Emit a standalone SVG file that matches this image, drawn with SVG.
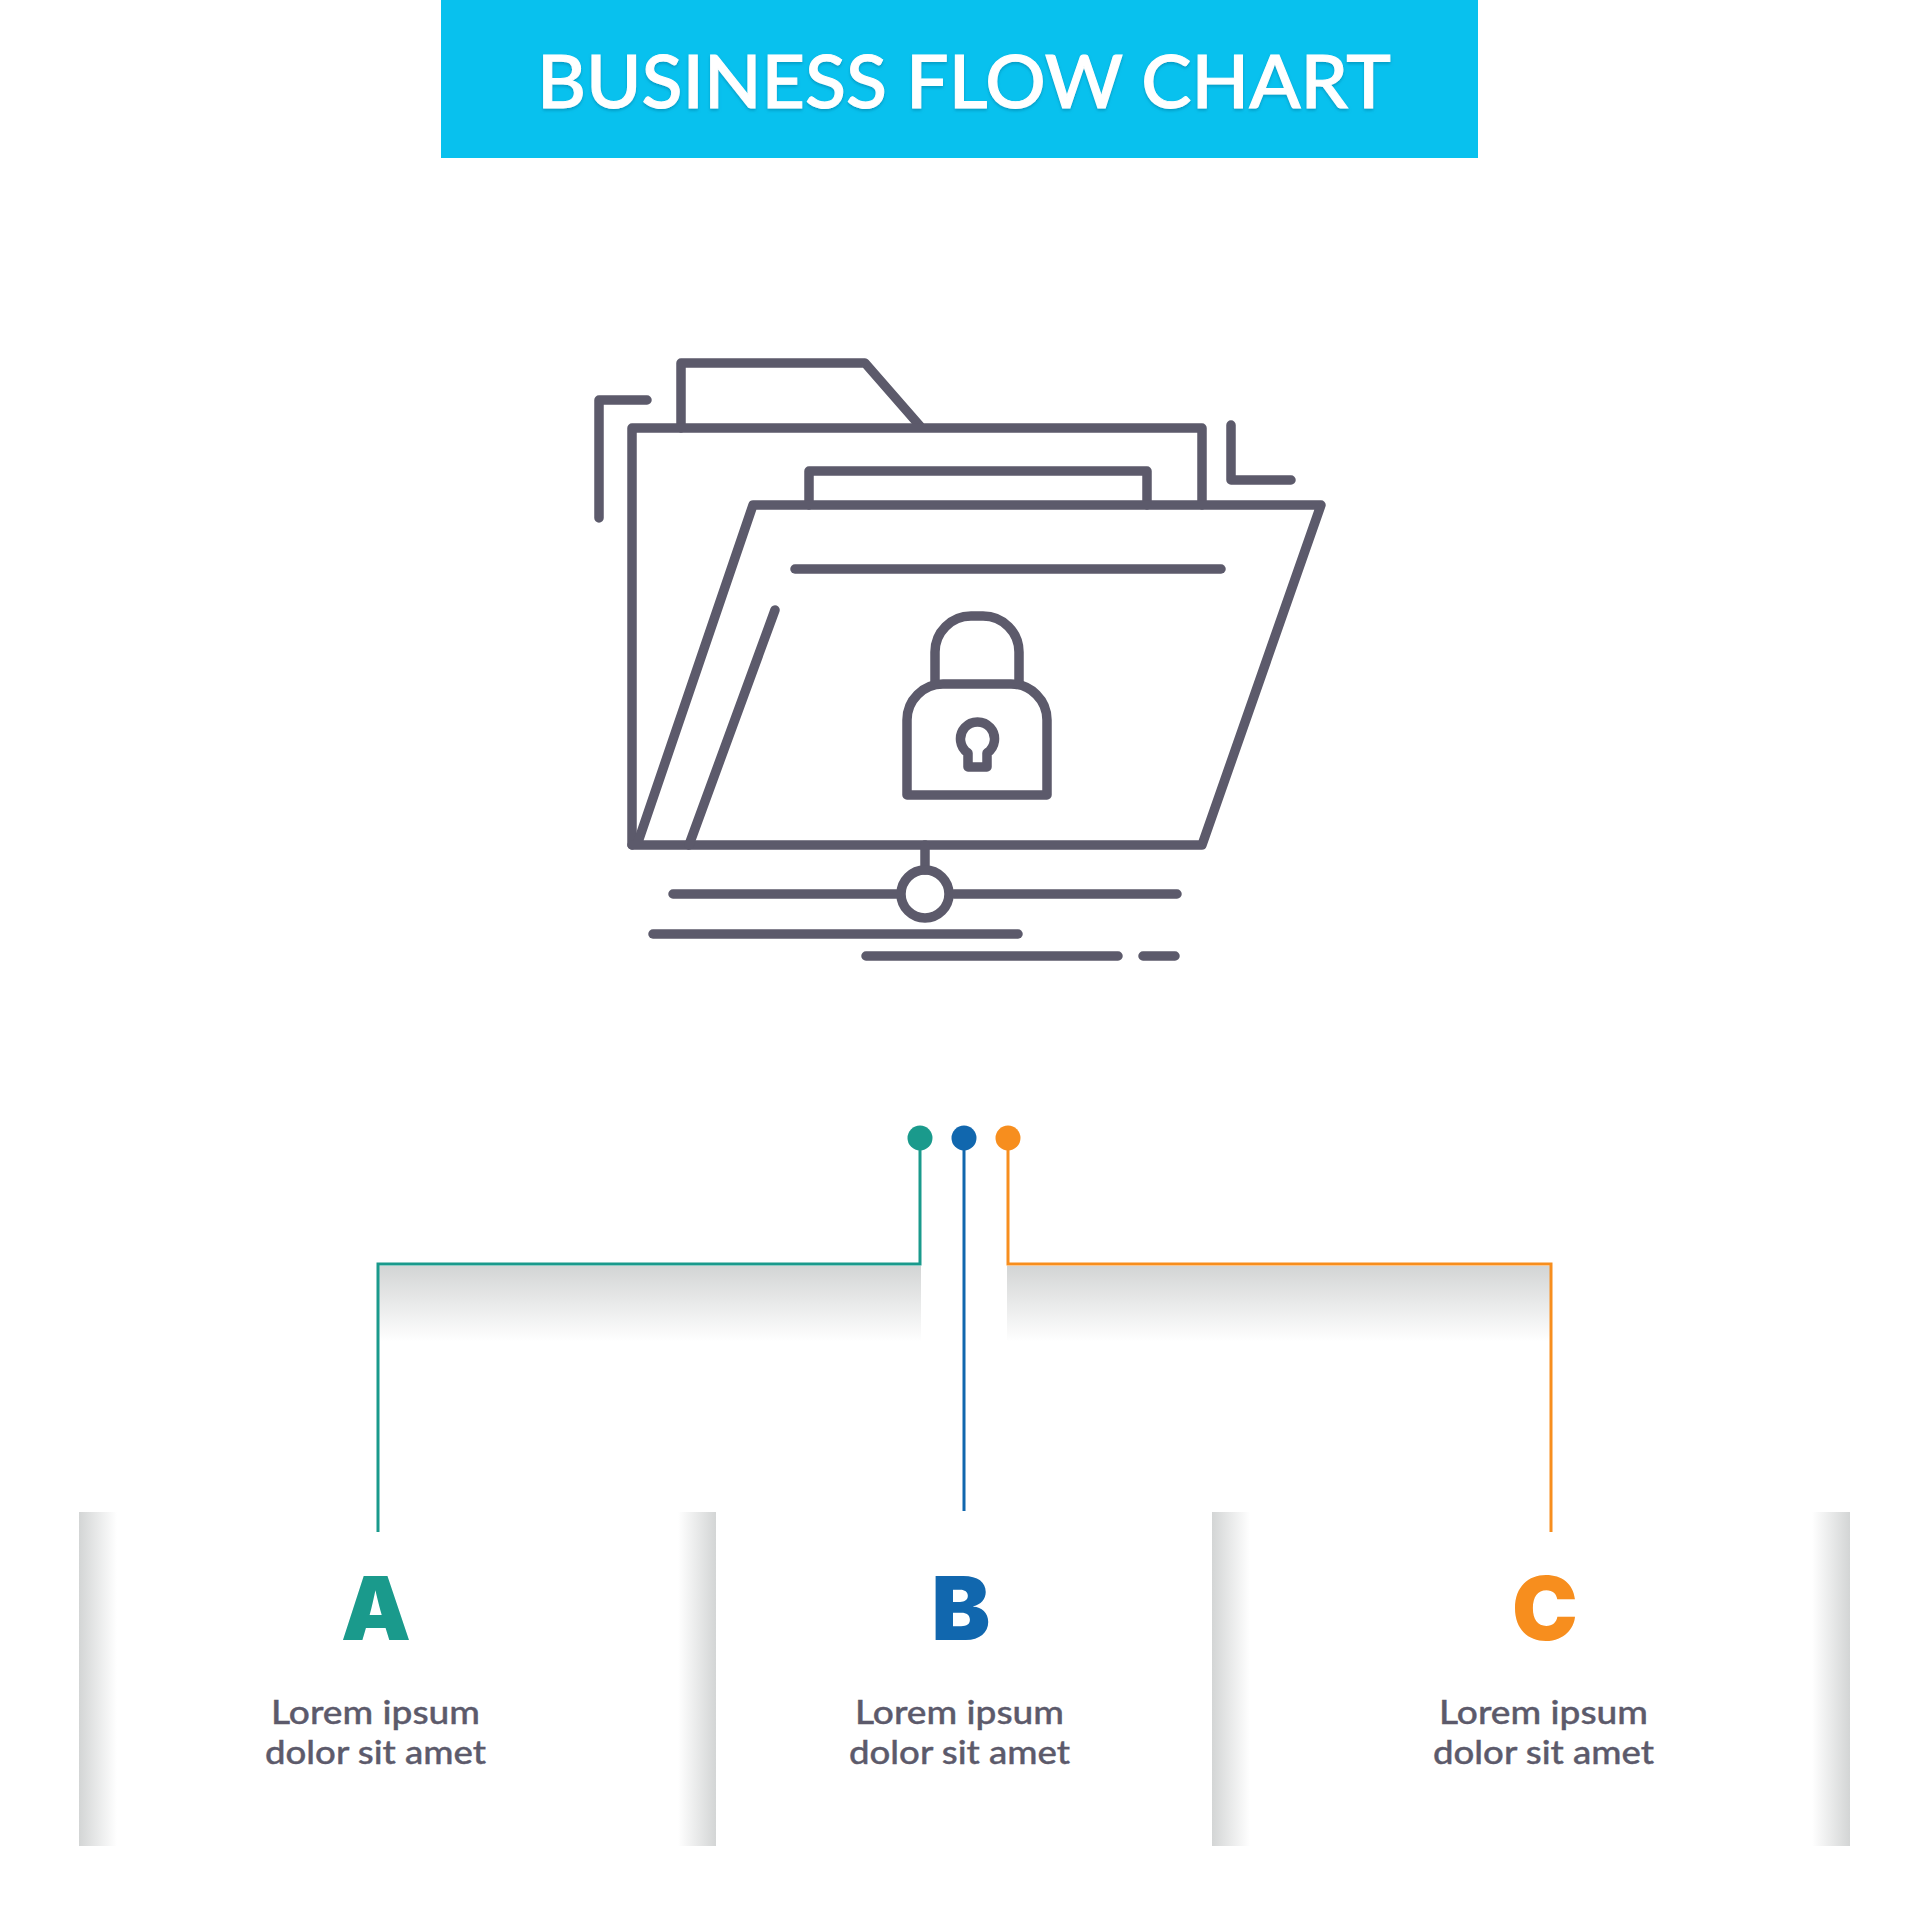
<svg xmlns="http://www.w3.org/2000/svg" width="1920" height="1920" viewBox="0 0 1920 1920">
<defs>
<linearGradient id="fadeL" x1="0" x2="1" y1="0" y2="0"><stop offset="0" stop-color="#d3d5d5"/><stop offset="1" stop-color="#fff"/></linearGradient>
<linearGradient id="fadeR" x1="0" x2="1" y1="0" y2="0"><stop offset="0" stop-color="#fff"/><stop offset="1" stop-color="#d3d5d5"/></linearGradient>
<linearGradient id="fadeD" x1="0" x2="0" y1="0" y2="1"><stop offset="0" stop-color="#d3d5d5"/><stop offset="1" stop-color="#fff"/></linearGradient>
<filter id="ts" x="-5%" y="-20%" width="110%" height="140%"><feDropShadow dx="0" dy="2" stdDeviation="1.5" flood-color="#067fa6" flood-opacity="0.55"/></filter>
</defs>
<style>
.ic{fill:none;stroke:#5c5a6b;stroke-width:9.5;stroke-linecap:round;stroke-linejoin:round}
.con{fill:none;stroke-width:3}
.title{font-family:"Lato","Liberation Sans",sans-serif;font-size:74px;font-weight:500;fill:#fff;stroke:#fff;stroke-width:1}
.let{font-family:"Inter","Liberation Sans",sans-serif;font-size:88px;font-weight:900;text-anchor:middle}
.txt{font-family:"Lato","Liberation Sans",sans-serif;font-size:33px;font-weight:500;fill:#5c5a6b;stroke:#5c5a6b;stroke-width:0.4}
</style>
<rect width="1920" height="1920" fill="#fff"/>
<g id="header">
<rect x="441" y="0" width="1037" height="158" fill="#08c1ee"/>
<text class="title" x="537" y="108" textLength="854" lengthAdjust="spacingAndGlyphs" filter="url(#ts)">BUSINESS FLOW CHART</text>
</g>
<g id="icon" class="ic">
<path d="M681 428V363H865L920 426"/>
<path d="M647 400H599V518"/>
<path d="M632 845V428H1202V505"/>
<path d="M1231 425V480H1291"/>
<path d="M809 505V471H1147V505"/>
<path d="M637 845L753 505H1321L1202 845H632"/>
<path d="M795 569H1221"/>
<path d="M775 610L689 845"/>
<path d="M935 684V652a36 36 0 0 1 36-36h12a36 36 0 0 1 36 36V684"/>
<path d="M907 795V720a36 36 0 0 1 36-36h68a36 36 0 0 1 36 36V795Z"/>
<path d="M968 767V753a17 17 0 1 1 19 0V767Z"/>
<path d="M925 845V870"/>
<circle cx="925" cy="894" r="24"/>
<path d="M673 894H899M954 894H1177"/>
<path d="M653 934H1018"/>
<path d="M866 956H1118M1143 956H1175"/>
</g>
<g id="shadows">
<rect x="379" y="1266" width="542" height="76" fill="url(#fadeD)"/>
<rect x="1007" y="1266" width="543" height="76" fill="url(#fadeD)"/>
</g>
<g id="connectors" class="con">
<path d="M920 1138V1264H378V1532" stroke="#1a9a8c" class="con"/>
<path d="M964 1138V1511" stroke="#1167ae" class="con"/>
<path d="M1008 1138V1264H1551V1532" stroke="#f78e1e" class="con"/>
</g>
<g id="dots">
<circle cx="920" cy="1138" r="12.5" fill="#1a9a8c"/>
<circle cx="964" cy="1138" r="12.5" fill="#1167ae"/>
<circle cx="1008" cy="1138" r="12.5" fill="#f78e1e"/>
</g>
<g id="panel-a">
<rect x="79" y="1512" width="38" height="334" fill="url(#fadeL)"/>
<rect x="678" y="1512" width="38" height="334" fill="url(#fadeR)"/>
<text class="let" x="376" y="1640" fill="#1a9a8c">A</text>
<text class="txt" x="271" y="1724" textLength="209" lengthAdjust="spacingAndGlyphs">Lorem ipsum</text>
<text class="txt" x="265" y="1764" textLength="221" lengthAdjust="spacingAndGlyphs">dolor sit amet</text>
</g>
<g id="panel-b">
<text class="let" x="961" y="1640" fill="#1167ae">B</text>
<text class="txt" x="855" y="1724" textLength="209" lengthAdjust="spacingAndGlyphs">Lorem ipsum</text>
<text class="txt" x="849" y="1764" textLength="221" lengthAdjust="spacingAndGlyphs">dolor sit amet</text>
</g>
<g id="panel-c">
<rect x="1212" y="1512" width="38" height="334" fill="url(#fadeL)"/>
<rect x="1812" y="1512" width="38" height="334" fill="url(#fadeR)"/>
<text class="let" x="1545" y="1640" fill="#f78e1e">C</text>
<text class="txt" x="1439" y="1724" textLength="209" lengthAdjust="spacingAndGlyphs">Lorem ipsum</text>
<text class="txt" x="1433" y="1764" textLength="221" lengthAdjust="spacingAndGlyphs">dolor sit amet</text>
</g>
</svg>
